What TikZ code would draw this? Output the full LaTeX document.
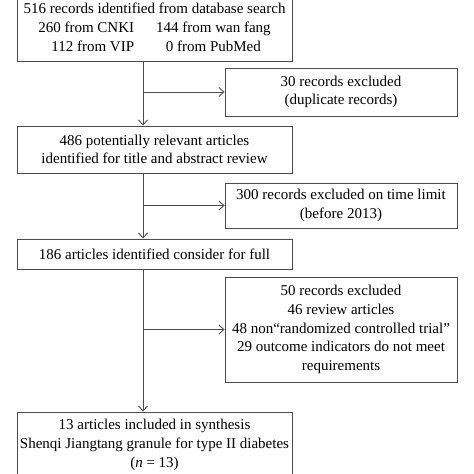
\documentclass[tikz,border=0pt]{standalone}
\usepackage{fontspec}
\setmainfont{Liberation Serif}
\usetikzlibrary{arrows.meta}
\begin{document}
\begin{tikzpicture}[
        x=1pt,
        y=-1pt,
        font=\fontsize{15}{18.7}\selectfont,
        % 框样式
        box/.style={draw=black!70,line width=0.9pt,minimum width=275pt,align=center,inner sep=0pt},
        excl/.style={box,minimum width=232pt},
        arr/.style={draw=black!70,line width=0.9pt,-{Straight Barb[length=5pt,width=9pt]}},
    ]
    \useasboundingbox (0,0) rectangle (474,474);

    % 主流程框
    \node[box,minimum height=63pt] (b1) at (154.5,30) {516 records identified from database search\\
        \begin{tabular}[t]{@{}r@{\hspace{22pt}}c@{}}
            260 from CNKI & 144 from wan fang\\
            112 from VIP  & 0 from PubMed
        \end{tabular}};
    \node[box,minimum height=47pt] (b2) at (154.5,149.5) {486 potentially relevant articles\\identified for title and abstract review};
    \node[box,minimum height=30pt] (b3) at (154.5,254) {186 articles identified consider for full};
    \node[box,minimum height=66pt] (b4) at (154.5,445) {13 articles included in synthesis\\Shenqi Jiangtang granule for type II diabetes\\(\textit{n} = 13)};

    % 排除框
    \node[excl,minimum height=48pt] (e1) at (341,92) {30 records excluded\\(duplicate records)};
    \node[excl,minimum height=45pt] (e2) at (341,205.5) {300 records excluded on time limit\\(before 2013)};
    \node[excl,minimum height=105pt] (e3) at (341,329.5) {50 records excluded\\46 review articles\\48 non“randomized controlled trial”\\29 outcome indicators do not meet\\requirements};

    % 连线
    \coordinate (spine) at (143,0);
    \draw[arr] (b1.south -| spine) -- (b2.north -| spine);
    \draw[arr] (b2.south -| spine) -- (b3.north -| spine);
    \draw[arr] (b3.south -| spine) -- (b4.north -| spine);
    \draw[arr] (spine |- e1.west) -- (e1.west);
    \draw[arr] (spine |- e2.west) -- (e2.west);
    \draw[arr] (spine |- e3.west) -- (e3.west);
\end{tikzpicture}
\end{document}
